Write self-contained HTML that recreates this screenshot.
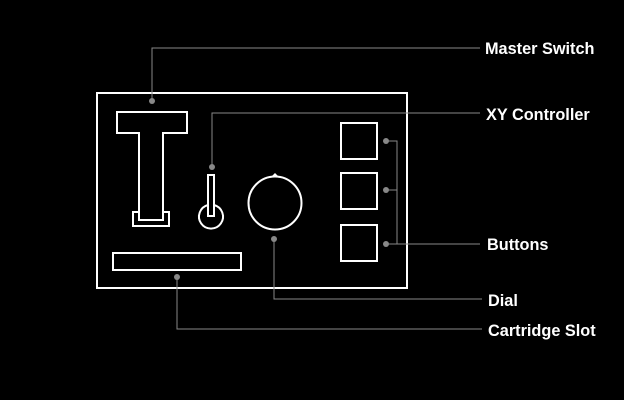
<!DOCTYPE html>
<html><head><style>body{margin:0;background:#000}</style></head><body>
<svg width="624" height="400" xmlns="http://www.w3.org/2000/svg" style="display:block">
<rect width="624" height="400" fill="#000"/>
<g fill="none" stroke="#fff" stroke-width="2">
<rect x="97" y="93" width="310" height="195"/>
<path d="M117 112H187V133H163V220H139V133H117Z"/>
<path d="M139 212H133V226H169V212H163"/>
<rect x="208" y="175" width="6" height="41"/>
<path d="M208 205A12 12 0 1 0 214 205"/>
<circle cx="275" cy="203" r="26.5"/>
<rect x="341" y="123" width="36" height="36"/>
<rect x="341" y="173" width="36" height="36"/>
<rect x="341" y="225" width="36" height="36"/>
<rect x="113" y="253" width="128" height="17"/>
</g>
<path d="M272 176L275 173L278 176Z" fill="#fff"/>
<g fill="none" stroke="#888" stroke-width="1">
<path d="M152 101V48H480"/>
<path d="M212 167V113H480"/>
<path d="M386 141H397V244M386 190H397M386 244H480"/>
<path d="M274 239V299H482"/>
<path d="M177 277V329H482"/>
</g>
<g fill="#888">
<circle cx="152" cy="101" r="3"/><circle cx="212" cy="167" r="3"/>
<circle cx="386" cy="141" r="3"/><circle cx="386" cy="190" r="3"/><circle cx="386" cy="244" r="3"/>
<circle cx="274" cy="239" r="3"/><circle cx="177" cy="277" r="3"/>
</g>
<g fill="#fff" font-family="Liberation Sans, sans-serif" font-weight="bold" font-size="16.3">
<text x="485" y="54">Master Switch</text>
<text x="486" y="120">XY Controller</text>
<text x="487" y="250">Buttons</text>
<text x="488" y="306">Dial</text>
<text x="488" y="336">Cartridge Slot</text>
</g>
</svg>
</body></html>
